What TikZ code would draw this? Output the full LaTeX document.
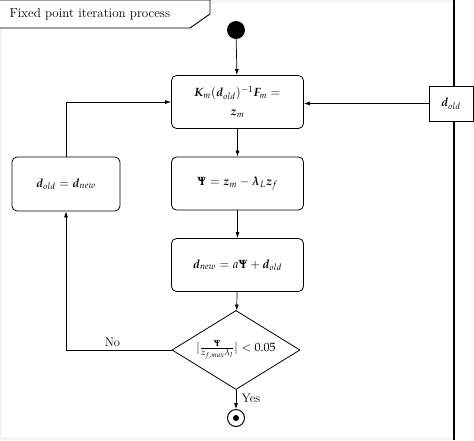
\documentclass[tikz,border=0pt]{standalone}
\usepackage{amsmath}
\usepackage{mathpazo}
\usepackage{bm}
\usetikzlibrary{shapes.geometric,arrows.meta}
\tikzset{
  proc/.style={draw, rounded corners=5pt, minimum width=132pt, minimum height=53pt, align=center, line width=0.8pt, font=\fontsize{12}{21}\selectfont},
  flow/.style={draw, line width=0.7pt, -{Latex[length=6pt,width=4pt]}},
  lbl/.style={font=\fontsize{12.5}{14}\selectfont}
}
\begin{document}
\begin{tikzpicture}[x=1pt,y=-1pt]
\useasboundingbox (0,0) rectangle (474,440);
% faint frame
\fill[gray!8] (0,0) rectangle (452,2.5);
\fill[gray!8] (0,0) rectangle (2,440);
\fill[gray!8] (0,437) rectangle (452,440);
% swimlane line
\draw[line width=1.1pt] (454,0) -- (454,440);
% title tab
\draw[line width=0.9pt, fill=white] (0,0) -- (210,0) -- (210,14) -- (190,28) -- (0,28);
\node[font=\fontsize{13}{15}\selectfont, anchor=west] (title) at (6,14.5) {Fixed point iteration process};
% start
\node[circle, fill=black, minimum size=18pt, inner sep=0pt] (start) at (236,30) {};
% boxes
\node[proc] (b1) at (237.5,102) {$\bm{K}_m(\bm{d}_{old})^{-1}\bm{F}_m =$\\[-2pt]$\bm{z}_m$};
\node[proc] (b2) at (237.5,183.5) {$\bm{\Psi} = \bm{z}_m - \bm{\lambda}_L\bm{z}_f$};
\node[proc] (b3) at (237.5,265) {$\bm{d}_{new} = a\bm{\Psi} + \bm{d}_{old}$};
\node[proc, minimum width=108pt, minimum height=54pt] (bl) at (66,184) {$\bm{d}_{old} = \bm{d}_{new}$};
\node[draw, diamond, aspect=1.62, minimum width=128pt, minimum height=79pt, inner sep=0pt, line width=0.8pt, font=\fontsize{12}{14}\selectfont] (dec) at (236,350) {$|\frac{\bm{\Psi}}{z_{f,max}\lambda_l}| < 0.05$};
\node[draw, fill=white, minimum width=44pt, minimum height=35pt, inner sep=0pt, line width=0.5pt, font=\fontsize{12}{14}\selectfont] (dold) at (451,103.5) {$\bm{d}_{old}$};
% end
\node[circle, draw, line width=1pt, minimum size=17pt, inner sep=0pt] (end) at (236,418) {};
\fill (end.center) circle (3pt);
% connectors
\draw[flow] (start) -- (b1);
\draw[flow] (b1) -- (b2);
\draw[flow] (b2) -- (b3);
\draw[flow] (b3) -- (dec);
\draw[flow] (dec) -- node[lbl, right, pos=0.45, xshift=2pt] {Yes} (end);
\draw[flow] (dold.west) -- (b1.east |- dold.west);
\draw[flow] (bl.north) |- (b1.west);
\draw[flow] (dec.west) -| node[lbl, above, pos=0.28] {No} (bl.south);
\end{tikzpicture}
\end{document}
